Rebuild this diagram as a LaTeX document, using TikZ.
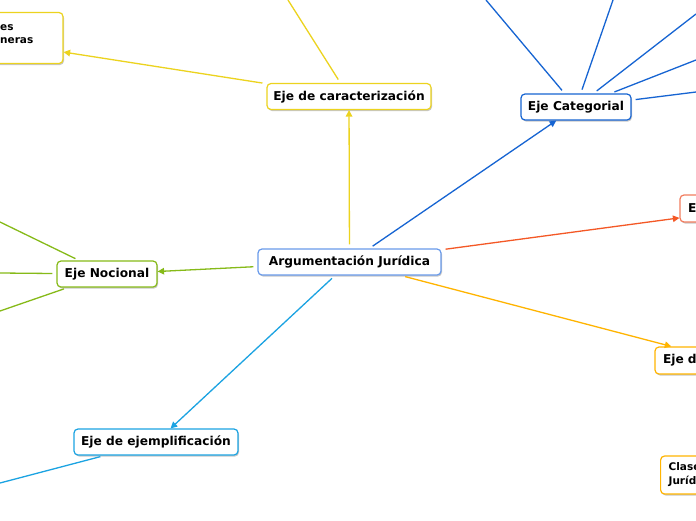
\documentclass[tikz,border=0pt]{standalone}
\usepackage{fontspec}
\setmainfont{DejaVu Sans}
\usetikzlibrary{arrows.meta,shadows}
\definecolor{cyel}{RGB}{236,211,30}
\definecolor{ccat}{RGB}{22,100,210}
\definecolor{cblue}{RGB}{105,155,235}
\definecolor{cgreen}{RGB}{134,186,24}
\definecolor{ccyan}{RGB}{27,163,226}
\definecolor{cred}{RGB}{244,88,38}
\definecolor{credb}{RGB}{242,125,95}
\definecolor{corange}{RGB}{255,180,0}
\begin{document}
\begin{tikzpicture}[x=1pt,y=-1pt,
  box/.style={draw, rounded corners=4pt, line width=1.2pt, fill=white,
    font=\bfseries\fontsize{12.2}{14.5}\selectfont, minimum height=26pt,
    inner xsep=6pt, inner ysep=3pt,
    drop shadow={opacity=0.22, shadow xshift=1pt, shadow yshift=-1.5pt, fill=black}},
  con/.style={line width=1.3pt, shorten <=4pt},
  arr/.style={con, -{Triangle[length=6.5pt,width=6.5pt]}}]
\useasboundingbox (0,0) rectangle (696,520);
\fill[white] (0,0) rectangle (696,520);

\node[box, draw=cblue, minimum width=183pt] (central) at (349.5,262) {Argumentación Jurídica};
\node[box, draw=cyel, minimum width=164pt] (car) at (349,96.5) {Eje de caracterización};
\node[box, draw=ccat, minimum width=110pt] (cat) at (576,107) {Eje Categorial};
\node[box, draw=cgreen, minimum width=100pt] (noc) at (107,274) {Eje Nocional};
\node[box, draw=ccyan, minimum width=164pt] (ejm) at (156,442) {Eje de ejemplificación};
\node[box, draw=credb, text width=124pt, align=left, minimum height=27pt, inner xsep=8pt] (red) at (750,208.5) {E};
\node[box, draw=corange, text width=124pt, align=left, minimum height=27pt, inner xsep=8pt] (ejd) at (725,360.5) {Eje d};
\node[box, draw=corange, text width=100pt, align=left, anchor=west, minimum height=38pt, inner xsep=8pt,
  font=\bfseries\fontsize{10.5}{14}\selectfont] (cla) at (660,475) {Clase\\Juríd};
\node[box, draw=cyel, minimum width=180pt, minimum height=51pt] (tl) at (-27,38) {};
\node[font=\bfseries\fontsize{10.5}{12.5}\selectfont, align=left, anchor=west, inner sep=0pt] (tltext) at (0,34) {es\\neras};

\coordinate (y1) at (288,0);
\coordinate (c1) at (486,0);
\coordinate (c2) at (613,0);
\coordinate (c3) at (696,14);
\coordinate (c4) at (696,60);
\coordinate (c5) at (696,92);
\coordinate (n1) at (0,222);
\coordinate (n2) at (0,273);
\coordinate (n3) at (0,311);
\coordinate (e1) at (0,483);

\draw[arr, cyel] (central) -- (car);
\draw[arr, cyel] (car) -- (tl);
\draw[con, cyel] (car) -- (y1);
\draw[arr, ccat] (central) -- (cat);
\foreach \c in {c1,c2,c3,c4,c5} \draw[con, ccat] (cat) -- (\c);
\draw[arr, cred] (central) -- (red);
\draw[arr, corange] (central) -- (ejd);
\draw[arr, cgreen] (central) -- (noc);
\foreach \c in {n1,n2,n3} \draw[con, cgreen] (noc) -- (\c);
\draw[arr, ccyan] (central) -- (ejm);
\draw[con, ccyan] (ejm) -- (e1);
\end{tikzpicture}
\end{document}
